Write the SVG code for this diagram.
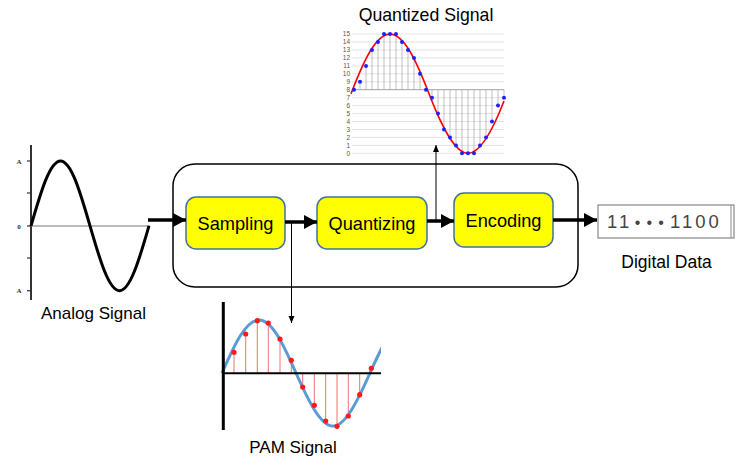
<svg xmlns="http://www.w3.org/2000/svg" width="743" height="469" viewBox="0 0 743 469">
<style>
.lbl{font-family:"Liberation Sans",Arial,sans-serif;fill:#000}
.blk{fill:#ffff00;stroke:#41719c;stroke-width:1.5}
.blktxt{font-family:"Liberation Sans",Arial,sans-serif;font-size:18.2px;text-anchor:middle;fill:#000}
.thick{stroke:#000;stroke-width:3.5;fill:none}
.thin{stroke:#000;stroke-width:1;fill:none}
.grid{stroke:#dcdcdc;stroke-width:0.8}
.stem{stroke:#999;stroke-width:0.6}
.qnum{font-family:"Liberation Sans",Arial,sans-serif;font-size:6.5px;fill:#555;text-anchor:end}
.bdot{fill:#1f1fff}
.rdot{fill:#ff1a1a}
.rstem{stroke:#f07070;stroke-width:1}
</style>
<defs>
<marker id="big" markerWidth="15" markerHeight="15" refX="13" refY="7" orient="auto" markerUnits="userSpaceOnUse"><path d="M0,0 L13,7 L0,14 Z" fill="#000"/></marker>
<marker id="small" markerWidth="10" markerHeight="10" refX="7" refY="3.5" orient="auto" markerUnits="userSpaceOnUse"><path d="M0,0.5 L7,3.5 L0,6.5 Z" fill="#000"/></marker>
<clipPath id="pamclip"><rect x="215" y="295" width="166" height="140"/></clipPath>
</defs>

<g id="analog">
<line x1="31" y1="145" x2="31" y2="300" stroke="#333" stroke-width="2"/>
<line x1="31" y1="226" x2="150" y2="226" stroke="#777" stroke-width="1.2"/>
<g stroke="#333" stroke-width="1.2">
<line x1="27" y1="161" x2="31" y2="161"/>
<line x1="27" y1="193" x2="31" y2="193"/>
<line x1="27" y1="226" x2="31" y2="226"/>
<line x1="27" y1="258" x2="31" y2="258"/>
<line x1="27" y1="290.7" x2="31" y2="290.7"/>
</g>
<g font-family="Liberation Serif,serif" font-size="7" font-weight="bold" fill="#333" text-anchor="middle">
<text x="19" y="164">A</text>
<text x="19" y="229">0</text>
<text x="19" y="293">A</text>
</g>
<path d="M31,225.85 C40.86,191.8 49.88,161 60.5,161 S80.14,191.8 90,225.85 S108.88,290.7 119.5,290.7 S139.14,259.9 149,225.85" fill="none" stroke="#000" stroke-width="3"/>
<text class="lbl" x="93.5" y="319" font-size="17" text-anchor="middle">Analog Signal</text>
</g>

<g id="process">
<rect x="173" y="164" width="405" height="123" rx="22" fill="#fff" stroke="#000" stroke-width="1.5"/>
</g>

<g id="sampling">
<rect class="blk" x="186" y="197" width="99" height="52" rx="10"/>
<text class="blktxt" x="235.5" y="229.5">Sampling</text>
</g>
<g id="quantizing">
<rect class="blk" x="317" y="197" width="110" height="52" rx="10"/>
<text class="blktxt" x="372" y="229.5">Quantizing</text>
</g>
<g id="encoding">
<rect class="blk" x="454" y="193" width="99" height="54" rx="10"/>
<text class="blktxt" x="503.5" y="227">Encoding</text>
</g>

<g id="digital">
<rect x="598" y="205" width="136" height="33" fill="#fff" stroke="#888" stroke-width="1.2"/>
<line x1="731" y1="205" x2="731" y2="238" stroke="#888" stroke-width="1"/>
<text y="228" font-family="Liberation Sans,Arial,sans-serif" font-size="18.5" fill="#444" letter-spacing="3"><tspan x="607">11</tspan><tspan x="634.8" font-size="16">•</tspan><tspan x="646.5" font-size="16">•</tspan><tspan x="658.2" font-size="16">•</tspan><tspan x="670">1100</tspan></text>
<text class="lbl" x="666.5" y="268" font-size="17.5" text-anchor="middle">Digital Data</text>
</g>

<g id="quantized">
<text class="lbl" x="426" y="21" font-size="17.7" text-anchor="middle">Quantized Signal</text>
<g class="grid">
<line x1="352" y1="153.3" x2="504" y2="153.3"/>
<line x1="352" y1="145.4" x2="504" y2="145.4"/>
<line x1="352" y1="137.4" x2="504" y2="137.4"/>
<line x1="352" y1="129.5" x2="504" y2="129.5"/>
<line x1="352" y1="121.5" x2="504" y2="121.5"/>
<line x1="352" y1="113.6" x2="504" y2="113.6"/>
<line x1="352" y1="105.6" x2="504" y2="105.6"/>
<line x1="352" y1="97.7" x2="504" y2="97.7"/>
<line x1="352" y1="81.8" x2="504" y2="81.8"/>
<line x1="352" y1="73.8" x2="504" y2="73.8"/>
<line x1="352" y1="65.9" x2="504" y2="65.9"/>
<line x1="352" y1="57.9" x2="504" y2="57.9"/>
<line x1="352" y1="50" x2="504" y2="50"/>
<line x1="352" y1="42" x2="504" y2="42"/>
<line x1="352" y1="34.1" x2="504" y2="34.1"/>
</g>
<line x1="352" y1="89.7" x2="504" y2="89.7" stroke="#999" stroke-width="0.9"/>
<g class="qnum">
<text x="350" y="155.5">0</text>
<text x="350" y="147.6">1</text>
<text x="350" y="139.6">2</text>
<text x="350" y="131.7">3</text>
<text x="350" y="123.7">4</text>
<text x="350" y="115.8">5</text>
<text x="350" y="107.8">6</text>
<text x="350" y="99.9">7</text>
<text x="350" y="91.9">8</text>
<text x="350" y="84">9</text>
<text x="350" y="76">10</text>
<text x="350" y="68.1">11</text>
<text x="350" y="60.1">12</text>
<text x="350" y="52.2">13</text>
<text x="350" y="44.2">14</text>
<text x="350" y="36.3">15</text>
</g>
<g class="stem">
<line x1="360" y1="89.7" x2="360" y2="81.8"/>
<line x1="366" y1="89.7" x2="366" y2="65.9"/>
<line x1="372" y1="89.7" x2="372" y2="50"/>
<line x1="378" y1="89.7" x2="378" y2="42"/>
<line x1="384" y1="89.7" x2="384" y2="34.1"/>
<line x1="390" y1="89.7" x2="390" y2="34.1"/>
<line x1="396" y1="89.7" x2="396" y2="34.1"/>
<line x1="402" y1="89.7" x2="402" y2="42"/>
<line x1="408" y1="89.7" x2="408" y2="50"/>
<line x1="414" y1="89.7" x2="414" y2="57.9"/>
<line x1="420" y1="89.7" x2="420" y2="73.8"/>
<line x1="432" y1="89.7" x2="432" y2="97.7"/>
<line x1="438" y1="89.7" x2="438" y2="113.6"/>
<line x1="444" y1="89.7" x2="444" y2="129.5"/>
<line x1="450" y1="89.7" x2="450" y2="137.4"/>
<line x1="456" y1="89.7" x2="456" y2="145.4"/>
<line x1="462" y1="89.7" x2="462" y2="153.3"/>
<line x1="468" y1="89.7" x2="468" y2="153.3"/>
<line x1="474" y1="89.7" x2="474" y2="153.3"/>
<line x1="480" y1="89.7" x2="480" y2="145.4"/>
<line x1="486" y1="89.7" x2="486" y2="137.4"/>
<line x1="492" y1="89.7" x2="492" y2="121.5"/>
<line x1="498" y1="89.7" x2="498" y2="105.6"/>
<line x1="504" y1="89.7" x2="504" y2="97.7"/>
</g>
<path d="M351,93.7 C364,60 376,34.1 390,34.1 S416,60 429,93.7 S455,153.3 468,153.3 S494,127 504,101" fill="none" stroke="#ff0000" stroke-width="1.6"/>
<g class="bdot">
<circle cx="354" cy="89.7" r="2"/>
<circle cx="360" cy="81.8" r="2"/>
<circle cx="366" cy="65.9" r="2"/>
<circle cx="372" cy="50" r="2"/>
<circle cx="378" cy="42" r="2"/>
<circle cx="384" cy="34.1" r="2"/>
<circle cx="390" cy="34.1" r="2"/>
<circle cx="396" cy="34.1" r="2"/>
<circle cx="402" cy="42" r="2"/>
<circle cx="408" cy="50" r="2"/>
<circle cx="414" cy="57.9" r="2"/>
<circle cx="420" cy="73.8" r="2"/>
<circle cx="426" cy="89.7" r="2"/>
<circle cx="432" cy="97.7" r="2"/>
<circle cx="438" cy="113.6" r="2"/>
<circle cx="444" cy="129.5" r="2"/>
<circle cx="450" cy="137.4" r="2"/>
<circle cx="456" cy="145.4" r="2"/>
<circle cx="462" cy="153.3" r="2"/>
<circle cx="468" cy="153.3" r="2"/>
<circle cx="474" cy="153.3" r="2"/>
<circle cx="480" cy="145.4" r="2"/>
<circle cx="486" cy="137.4" r="2"/>
<circle cx="492" cy="121.5" r="2"/>
<circle cx="498" cy="105.6" r="2"/>
<circle cx="504" cy="97.7" r="2"/>
</g>
</g>

<g id="pam">
<g class="rstem">
<line x1="234" y1="373" x2="234" y2="352.3"/>
<line x1="245.7" y1="373" x2="245.7" y2="334"/>
<line x1="257.3" y1="373" x2="257.3" y2="320.7"/>
<line x1="268.3" y1="373" x2="268.3" y2="323"/>
<line x1="280" y1="373" x2="280" y2="339"/>
<line x1="291.3" y1="373" x2="291.3" y2="360.3"/>
<line x1="302.7" y1="373" x2="302.7" y2="387"/>
<line x1="314.3" y1="373" x2="314.3" y2="405.3"/>
<line x1="325.7" y1="373" x2="325.7" y2="421"/>
<line x1="337" y1="373" x2="337" y2="426.3"/>
<line x1="348.3" y1="373" x2="348.3" y2="416"/>
<line x1="359.7" y1="373" x2="359.7" y2="394.7"/>
</g>
<path clip-path="url(#pamclip)" d="M222,373 C234.37,345.17 245.68,320 259,320 S283.63,345.17 296,373 S320.68,426 333,426 S357.63,400.83 370,373 S394.68,320 407,320" fill="none" stroke="#5b9bd5" stroke-width="3"/>
<line x1="223.3" y1="302" x2="223.3" y2="430" stroke="#000" stroke-width="3"/>
<line x1="223" y1="373.3" x2="381" y2="373.3" stroke="#000" stroke-width="2"/>
<g class="rdot">
<circle cx="234" cy="352.3" r="2.6"/>
<circle cx="245.7" cy="334" r="2.6"/>
<circle cx="257.3" cy="320.7" r="2.6"/>
<circle cx="268.3" cy="323" r="2.6"/>
<circle cx="280" cy="339" r="2.6"/>
<circle cx="291.3" cy="360.3" r="2.6"/>
<circle cx="302.7" cy="387" r="2.6"/>
<circle cx="314.3" cy="405.3" r="2.6"/>
<circle cx="325.7" cy="421" r="2.6"/>
<circle cx="337" cy="426.3" r="2.6"/>
<circle cx="348.3" cy="416" r="2.6"/>
<circle cx="359.7" cy="394.7" r="2.6"/>
<circle cx="371.3" cy="368.3" r="2.6"/>
</g>
<text class="lbl" x="293" y="453" font-size="17" text-anchor="middle">PAM Signal</text>
</g>

<g id="connectors">
<line class="thick" x1="148" y1="220" x2="186" y2="220" marker-end="url(#big)"/>
<line class="thick" x1="285" y1="222" x2="317" y2="222" marker-end="url(#big)"/>
<line class="thick" x1="427" y1="221" x2="454" y2="221" marker-end="url(#big)"/>
<line class="thick" x1="553" y1="220" x2="597" y2="220" marker-end="url(#big)"/>
<line class="thin" x1="291.5" y1="222" x2="291.5" y2="323" marker-end="url(#small)"/>
<line class="thin" x1="436" y1="221" x2="436" y2="145" marker-end="url(#small)"/>
</g>
</svg>
